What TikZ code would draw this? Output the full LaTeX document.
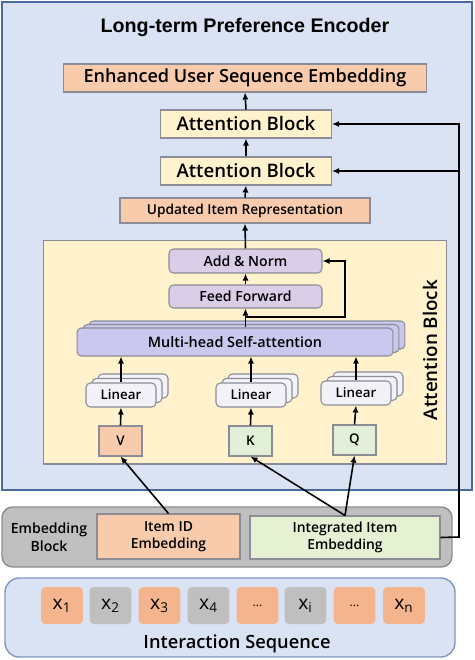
\documentclass[tikz,border=0pt]{standalone}
\usepackage{fontspec}
\setmainfont{Open Sans}[BoldFont={Open Sans Semibold}]
\newfontfamily\titlefont{Liberation Sans}
\usetikzlibrary{arrows.meta}

\definecolor{encbg}{HTML}{DAE3F3}
\definecolor{encline}{HTML}{4A6A9E}
\definecolor{orangebox}{HTML}{F8CBAD}
\definecolor{orangeitem}{HTML}{F4B58E}
\definecolor{yellowbox}{HTML}{FFF2CC}
\definecolor{greenbox}{HTML}{E2EFD9}
\definecolor{greenint}{HTML}{E6F0D2}
\definecolor{purplebox}{HTML}{DACDE8}
\definecolor{mhbox}{HTML}{CAC8EE}
\definecolor{linbox}{HTML}{F2F2F8}
\definecolor{graybox}{HTML}{BFBFBF}
\definecolor{boxline}{HTML}{8C8C96}

\begin{document}
\begin{tikzpicture}[
    x=0.02cm, y=-0.02cm,
    box/.style={draw=boxline, line width=0.6pt, fill=#1, inner sep=0pt, align=center},
    rbox/.style={box=#1, rounded corners=2.5pt},
    item/.style={fill=#1, rounded corners=2.5pt, minimum width=0.84cm, minimum height=0.74cm, inner sep=0pt, font=\fontsize{11}{12}\selectfont},
    arrow/.style={-{Latex[length=4pt,width=3.5pt]}, line width=0.9pt}
]
    \useasboundingbox (0,0) rectangle (474,660);

    % Encoder frame
    \node[draw=encline, line width=1.4pt, fill=encbg, minimum width=9.4cm, minimum height=9.76cm] (encoder) at (237,246) {};
    \node[font=\titlefont\bfseries\fontsize{11.2}{13}\selectfont] (title) at (245,27) {Long-term Preference Encoder};

    % Output stack
    \node[box=orangebox, minimum width=7.28cm, minimum height=0.56cm, font=\bfseries\fontsize{10.3}{12}\selectfont] (enhanced) at (245,78) {Enhanced User Sequence Embedding};
    \node[box=yellowbox, minimum width=3.42cm, minimum height=0.56cm, font=\bfseries\fontsize{10.6}{12}\selectfont] (attn2) at (246,124) {Attention Block};
    \node[box=yellowbox, minimum width=3.42cm, minimum height=0.56cm, font=\bfseries\fontsize{10.6}{12}\selectfont] (attn1) at (246,171) {Attention Block};
    \node[box=orangebox, minimum width=5cm, minimum height=0.5cm, font=\bfseries\fontsize{7.8}{9}\selectfont] (updated) at (245,210.5) {Updated Item Representation};

    % Attention block detail
    \node[box=yellowbox, minimum width=8.08cm, minimum height=4.48cm] (block) at (245,352) {};
    \node[rotate=90, font=\bfseries\fontsize{10.7}{12}\selectfont] (blocklabel) at (430,350) {Attention Block};

    \node[rbox=purplebox, minimum width=3.06cm, minimum height=0.48cm, font=\bfseries\fontsize{8}{9}\selectfont] (addnorm) at (245.5,261) {Add \& Norm};
    \node[rbox=purplebox, minimum width=3.06cm, minimum height=0.46cm, font=\bfseries\fontsize{8}{9}\selectfont] (ffwd) at (245.5,296.5) {Feed Forward};

    \foreach \dx/\dy in {12/-7, 6/-3.5}
        \node[rbox=mhbox, minimum width=6.32cm, minimum height=0.56cm] at (235+\dx,342+\dy) {};
    \node[rbox=mhbox, minimum width=6.32cm, minimum height=0.56cm, font=\bfseries\fontsize{8.2}{9}\selectfont] (mhsa) at (235,342) {Multi-head Self-attention};

    % Linear layers
    \foreach \name/\xx/\yy in {linV/121/395, linK/251/395, linQ/356/393} {
        \foreach \dx/\dy in {12/-9, 6/-4.5}
            \node[rbox=linbox, minimum width=1.4cm, minimum height=0.48cm] at (\xx+\dx,\yy+\dy) {};
        \node[rbox=linbox, minimum width=1.4cm, minimum height=0.48cm, font=\bfseries\fontsize{7.6}{9}\selectfont] (\name) at (\xx,\yy) {Linear};
    }

    % V, K, Q
    \node[box=orangebox, minimum width=0.86cm, minimum height=0.6cm, font=\bfseries\fontsize{7.6}{9}\selectfont] (v) at (120.5,441) {V};
    \node[box=greenbox, minimum width=0.86cm, minimum height=0.6cm, font=\bfseries\fontsize{7.6}{9}\selectfont] (k) at (250.5,441) {K};
    \node[box=greenbox, minimum width=0.86cm, minimum height=0.6cm, font=\bfseries\fontsize{7.6}{9}\selectfont] (q) at (354.5,440) {Q};

    % Embedding block
    \node[draw=boxline, line width=0.8pt, fill=graybox, rounded corners=6pt, minimum width=9cm, minimum height=1.2cm] (embed) at (227,537) {};
    \node[align=center, font=\bfseries\fontsize{8}{10}\selectfont] (embedlabel) at (49,537) {Embedding\\Block};
    \node[box=orangebox, minimum width=2.86cm, minimum height=0.9cm, font=\bfseries\fontsize{7.9}{10}\selectfont] (itemid) at (168.5,536.5) {Item ID\\Embedding};
    \node[box=greenint, minimum width=3.8cm, minimum height=0.86cm, font=\bfseries\fontsize{7.9}{10}\selectfont] (integ) at (345,537.5) {Integrated Item\\Embedding};

    % Interaction sequence
    \node[draw=encline!70, line width=0.8pt, fill=encbg, rounded corners=8pt, minimum width=9cm, minimum height=1.58cm] (seq) at (230,617.5) {};
    \node[item=orangeitem] (x1) at (62,605.5) {x\textsubscript{1}};
    \node[item=graybox] (x2) at (110.5,605.5) {x\textsubscript{2}};
    \node[item=orangeitem] (x3) at (159.5,605.5) {x\textsubscript{3}};
    \node[item=graybox] (x4) at (208.5,605.5) {x\textsubscript{4}};
    \node[item=orangeitem] (dots1) at (257.5,605.5) {\fontsize{7}{8}\selectfont ...};
    \node[item=graybox] (xi) at (305.5,605.5) {x\textsubscript{i}};
    \node[item=orangeitem] (dots2) at (354.5,605.5) {\fontsize{7}{8}\selectfont ...};
    \node[item=orangeitem] (xn) at (404,605.5) {x\textsubscript{n}};
    \node[font=\bfseries\fontsize{10.4}{12}\selectfont] (seqlabel) at (237,644) {Interaction Sequence};

    % Arrows
    \draw[arrow] (attn2.north) -- (enhanced.south);
    \draw[arrow] (attn1.north) -- (attn2.south);
    \draw[arrow] (updated.north) -- (attn1.south);
    \draw[arrow] (addnorm.north) -- (updated.south);
    \draw[arrow] (ffwd.north) -- (addnorm.south);
    \draw[arrow] (ffwd.south |- mhsa.north) -- (ffwd.south);
    \coordinate (split) at (246,317);
    \coordinate (res) at (345,317);
    \draw[arrow] (split) -- (res) |- (addnorm.east);
    \foreach \lin/\inp in {linV/v, linK/k, linQ/q} {
        \draw[arrow] (\lin.north) -- (\lin.north |- mhsa.south);
        \draw[arrow] (\inp.north) -- (\lin.south);
    }
    \draw[arrow] (itemid.north) -- (v.south);
    \draw[arrow] (integ.north) -- (k.south);
    \draw[arrow] (integ.north) -- (q.south);

    % Feedback to attention blocks
    \coordinate (fbturn) at (459,537);
    \coordinate (fbmid) at (459,171);
    \draw[arrow] (integ.east) -- (fbturn) |- (attn2.east);
    \draw[arrow] (fbmid) -- (attn1.east);
\end{tikzpicture}
\end{document}
